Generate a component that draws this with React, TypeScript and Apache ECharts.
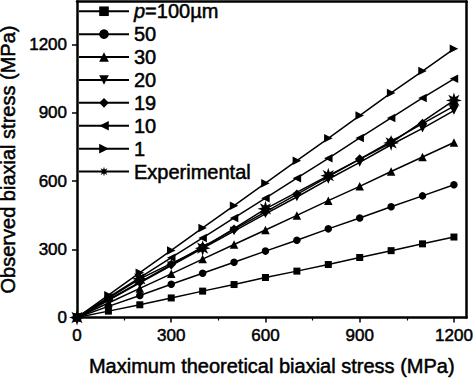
import React, { useEffect, useRef } from "react";
import * as echarts from "echarts";

const xModel = [0, 100, 200, 300, 400, 500, 600, 700, 800, 900, 1000, 1100, 1200];
const p100 = [0, 28, 56, 86, 116, 145, 176, 204, 233, 264, 294, 324, 354];
const p50 = [0, 49, 97, 146, 195, 243, 292, 340, 390, 438, 487, 535, 584];
const p30 = [0, 64, 128, 192, 257, 321, 385, 449, 514, 577, 642, 706, 770];
const p20 = [0, 76, 152, 228, 304, 380, 456, 530, 608, 682, 760, 832, 910];
const p19 = [0, 78, 155, 233, 310, 388, 465, 542, 620, 697, 775, 853, 930];
const p10 = [0, 88, 175, 263, 350, 438, 525, 613, 700, 790, 878, 966, 1050];
const p1 = [0, 98, 197, 295, 394, 492, 591, 690, 788, 888, 988, 1084, 1182];
const xExp = [0, 200, 400, 600, 800, 1000, 1200];
const yExp = [0, 170, 305, 478, 624, 768, 955];

const seriesNames = ["p=100µm", "50", "30", "20", "19", "10", "1", "Experimental"];
const xTicks = [0, 300, 600, 900, 1200];
const xMinorTicks = [150, 450, 750, 1050];
const yTicks = [0, 300, 600, 900, 1200];
const xTitle = "Maximum theoretical biaxial stress (MPa)";
const yTitle = "Observed biaxial stress (MPa)";

function starPath(): string {
  const pts: string[] = [];
  for (let i = 0; i < 16; i++) {
    const a = (i * Math.PI) / 8 - Math.PI / 2;
    const r = i % 2 === 0 ? 10 : 4.6;
    pts.push(`${(Math.cos(a) * r + 10).toFixed(2)} ${(Math.sin(a) * r + 10).toFixed(2)}`);
  }
  return "path://M" + pts.join(" L") + " Z";
}

const FONT = "'Liberation Sans', Arial, sans-serif";
const TXT = { color: "#000", fontFamily: FONT, textBorderColor: "#000", textBorderWidth: 0.5 };

export default function App() {
  const ref = useRef<HTMLDivElement>(null);
  useEffect(() => {
    if (!ref.current) return;
    const chart = echarts.init(ref.current, undefined, { renderer: "svg" });
    const pair = (ys: number[]) => xModel.map((x, i) => [x, ys[i]]);
    const mk = (name: string, ys: number[], symbol: string, size: number, rot = 0) => ({
      name,
      type: "line",
      data: pair(ys),
      symbol,
      symbolSize: size,
      symbolRotate: rot,
      showAllSymbol: true,
      lineStyle: { color: "#000", width: 1.5 },
      itemStyle: { color: "#000" },
      z: 3,
    });
    const series: any[] = [
      mk(seriesNames[0], p100, "rect", 7),
      mk(seriesNames[1], p50, "circle", 7.5),
      mk(seriesNames[2], p30, "triangle", 8.5),
      mk(seriesNames[3], p20, "triangle", 8.5, 180),
      mk(seriesNames[4], p19, "diamond", 9.5),
      mk(seriesNames[5], p10, "triangle", 8.5, 90),
      mk(seriesNames[6], p1, "triangle", 8.5, -90),
      {
        name: seriesNames[7],
        type: "line",
        data: xExp.map((x, i) => [x, yExp[i]]),
        symbol: starPath(),
        symbolSize: 16,
        showAllSymbol: true,
        lineStyle: { color: "#000", width: 1.5 },
        itemStyle: { color: "#000" },
        z: 4,
      },
    ];
    const fmt = (v: number) => String(v);
    chart.setOption({
      animation: false,
      textStyle: { fontFamily: FONT },
      grid: {
        left: 77,
        right: 7.5,
        top: 1.5,
        bottom: 61.5,
        containLabel: false,
        outerBoundsMode: "none",
      },
      legend: {
        orient: "vertical",
        left: 78,
        top: 1,
        itemWidth: 50,
        itemHeight: 12,
        itemGap: 2.4,
        padding: 0,
        data: seriesNames,
        textStyle: {
          fontSize: 20,
          ...TXT,
          rich: {
            i: { fontStyle: "italic", fontSize: 20, ...TXT },
            n: { fontSize: 20, ...TXT },
          },
        },
        formatter: (name: string) =>
          name === "p=100µm" ? "{i|p}{n|=100µm}" : name,
      },
      xAxis: [
        {
          type: "value",
          min: 0,
          max: 1240,
          interval: 300,
          name: xTitle,
          nameLocation: "middle",
          nameGap: 38,
          nameTextStyle: { fontSize: 20, ...TXT },
          axisLine: { show: true, lineStyle: { color: "#000", width: 2.5 } },
          axisTick: { show: true, customValues: xTicks, length: 5, lineStyle: { color: "#000", width: 1.5 } },
          axisLabel: { customValues: xTicks, fontSize: 17, margin: 9, formatter: fmt, ...TXT },
          splitLine: { show: false },
        },
        {
          type: "value",
          min: 0,
          max: 1240,
          position: "bottom",
          axisLine: { show: false },
          axisTick: { show: true, customValues: xMinorTicks, length: 3, lineStyle: { color: "#000", width: 1.2 } },
          axisLabel: { show: false },
          splitLine: { show: false },
        },
        {
          type: "value",
          min: 0,
          max: 1240,
          position: "top",
          axisLine: { show: true, onZero: false, lineStyle: { color: "#000", width: 2.5 } },
          axisTick: { show: false },
          axisLabel: { show: false },
          splitLine: { show: false },
        },
      ],
      yAxis: [
        {
          type: "value",
          min: 0,
          max: 1390,
          interval: 300,
          name: yTitle,
          nameLocation: "middle",
          nameGap: 48,
          nameTextStyle: { fontSize: 20, ...TXT },
          axisLine: { show: true, lineStyle: { color: "#000", width: 2.5 } },
          axisTick: { show: true, customValues: yTicks, length: 5, lineStyle: { color: "#000", width: 1.5 } },
          axisLabel: { customValues: yTicks, fontSize: 17, margin: 10, formatter: fmt, ...TXT },
          splitLine: { show: false },
        },
        {
          type: "value",
          min: 0,
          max: 1390,
          position: "right",
          axisLine: { show: true, onZero: false, lineStyle: { color: "#000", width: 2.5 } },
          axisTick: { show: false },
          axisLabel: { show: false },
          splitLine: { show: false },
        },
      ],
      series,
    });
    return () => chart.dispose();
  }, []);
  return (
    <div
      ref={ref}
      style={{ position: "fixed", left: 0, top: 0, width: 474, height: 379, background: "#fff" }}
    />
  );
}
